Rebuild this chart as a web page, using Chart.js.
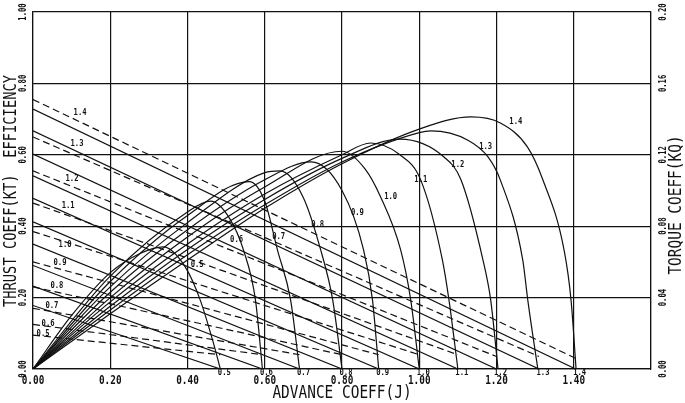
<!DOCTYPE html>
<html>
<head>
<meta charset="utf-8">
<script src="https://cdn.jsdelivr.net/npm/chart.js@4.4.0/dist/chart.umd.min.js"></script>
<style>
    html, body { margin: 0; padding: 0; background: #fff; }
</style>
</head>
<body>
<canvas id="chart" width="685" height="403"></canvas>
<script>
// pitch ratios P/D, one KT line, one KQ line and one efficiency curve each
const pitchRatios = ['0.5', '0.6', '0.7', '0.8', '0.9', '1.0', '1.1', '1.2', '1.3', '1.4'];

// advance coefficient where thrust is zero
const zeroThrustJ = [0.485, 0.594, 0.69, 0.80, 0.895, 1.00, 1.10, 1.20, 1.31, 1.405];

// KT at J = 0 (left axis)
const ktAtZero = [0.178, 0.232, 0.290, 0.350, 0.412, 0.478, 0.541, 0.602, 0.667, 0.728];

// KQ at J = 0 and at zero thrust (right axis)
const kqAtZero = [0.019, 0.025, 0.034, 0.046, 0.060, 0.077, 0.093, 0.111, 0.130, 0.151];
const kqAtZeroThrust = [0.008, 0.008, 0.008, 0.008, 0.008, 0.008, 0.008, 0.007, 0.007, 0.006];

// efficiency curves, [J, eta]
const etaCurves = [
    [[0, 0], [0.1, 0.15], [0.2, 0.27], [0.28, 0.325], [0.337, 0.342], [0.394, 0.286], [0.433, 0.193], [0.467, 0.073], [0.485, 0]],
    [[0, 0], [0.2, 0.26], [0.4, 0.44], [0.46, 0.47], [0.51, 0.42], [0.545, 0.333], [0.576, 0.193], [0.594, 0]],
    [[0, 0], [0.2, 0.245], [0.4, 0.43], [0.56, 0.525], [0.60, 0.47], [0.633, 0.333], [0.667, 0.193], [0.69, 0]],
    [[0, 0], [0.2, 0.23], [0.4, 0.41], [0.6, 0.55], [0.64, 0.555], [0.70, 0.48], [0.745, 0.333], [0.776, 0.193], [0.80, 0]],
    [[0, 0], [0.2, 0.215], [0.4, 0.39], [0.6, 0.53], [0.72, 0.58], [0.80, 0.50], [0.856, 0.333], [0.879, 0.193], [0.895, 0]],
    [[0, 0], [0.2, 0.20], [0.4, 0.37], [0.6, 0.51], [0.80, 0.61], [0.86, 0.56], [0.90, 0.482], [0.952, 0.333], [0.978, 0.193], [1.00, 0]],
    [[0, 0], [0.2, 0.188], [0.4, 0.35], [0.6, 0.49], [0.8, 0.60], [0.874, 0.633], [0.95, 0.60], [1.004, 0.529], [1.06, 0.305], [1.077, 0.193], [1.10, 0]],
    [[0, 0], [0.2, 0.176], [0.4, 0.335], [0.6, 0.475], [0.8, 0.59], [0.95, 0.644], [1.064, 0.594], [1.108, 0.53], [1.165, 0.305], [1.185, 0.193], [1.204, 0]],
    [[0, 0], [0.2, 0.165], [0.4, 0.32], [0.6, 0.46], [0.8, 0.58], [1.0, 0.662], [1.03, 0.667], [1.126, 0.641], [1.178, 0.594], [1.21, 0.529], [1.268, 0.305], [1.281, 0.193], [1.307, 0]],
    [[0, 0], [0.2, 0.155], [0.4, 0.305], [0.6, 0.45], [0.8, 0.575], [1.0, 0.672], [1.134, 0.706], [1.21, 0.689], [1.28, 0.622], [1.32, 0.53], [1.375, 0.333], [1.393, 0.193], [1.406, 0]]
];

// where the P/D numbers sit on the KQ lines and the efficiency curves, [J, value on left axis]
const kqLabelAt = [[0.026, 0.098], [0.039, 0.126], [0.049, 0.176], [0.062, 0.232], [0.070, 0.297], [0.083, 0.347], [0.091, 0.457], [0.101, 0.532], [0.114, 0.630], [0.122, 0.717]];
const etaLabelAt = [[0.425, 0.291], [0.527, 0.361], [0.636, 0.370], [0.737, 0.403], [0.840, 0.437], [0.926, 0.482], [1.004, 0.529], [1.100, 0.571], [1.172, 0.622], [1.250, 0.692]];

const jTicks = [0, 0.2, 0.4, 0.6, 0.8, 1.0, 1.2, 1.4];
const leftTicks = [0, 0.2, 0.4, 0.6, 0.8, 1.0];
const rightTicks = [0, 0.04, 0.08, 0.12, 0.16, 0.20];

const INK = '#111';
const MONO = '"DejaVu Sans Mono", "Liberation Mono", monospace';

const datasets = [];
pitchRatios.forEach((pd, i) => {
    datasets.push({
        label: 'KT ' + pd,
        data: [{x: 0, y: ktAtZero[i]}, {x: zeroThrustJ[i], y: 0}],
        yAxisID: 'y'
    });
    datasets.push({
        label: 'KQ ' + pd,
        data: [{x: 0, y: kqAtZero[i]}, {x: zeroThrustJ[i], y: kqAtZeroThrust[i]}],
        yAxisID: 'y2',
        borderDash: [7, 4]
    });
    datasets.push({
        label: 'ETA ' + pd,
        data: etaCurves[i].map(p => ({x: p[0], y: p[1]})),
        yAxisID: 'y',
        cubicInterpolationMode: 'monotone'
    });
});

function drawText(ctx, text, x, y, rot, font, sx) {
    ctx.save();
    ctx.translate(x, y);
    ctx.rotate(rot);
    ctx.scale(sx, 1);
    ctx.font = font;
    ctx.fillText(text, 0, 0);
    ctx.restore();
}

const textPlugin = {
    id: 'chartText',
    afterDraw(chart) {
        const {ctx, chartArea} = chart;
        const x = chart.scales.x, y = chart.scales.y, y2 = chart.scales.y2;
        ctx.save();
        ctx.fillStyle = INK;
        ctx.textAlign = 'center';
        ctx.textBaseline = 'middle';

        // tick labels
        jTicks.forEach(v => drawText(ctx, v.toFixed(2), x.getPixelForValue(v), chartArea.bottom + 12, 0, 'bold 12px ' + MONO, 0.78));
        leftTicks.forEach(v => drawText(ctx, v.toFixed(2), chartArea.left - 10, y.getPixelForValue(v), -Math.PI / 2, 'bold 10px ' + MONO, 0.72));
        rightTicks.forEach(v => drawText(ctx, v.toFixed(2), chartArea.right + 12, y2.getPixelForValue(v), -Math.PI / 2, 'bold 10px ' + MONO, 0.72));

        // axis titles
        drawText(ctx, 'ADVANCE COEFF(J)', 342, chartArea.bottom + 25, 0, '17px ' + MONO, 0.85);
        drawText(ctx, 'THRUST COEFF(KT)  EFFICIENCY', 12, 191, -Math.PI / 2, '17px ' + MONO, 0.81);
        drawText(ctx, 'TORQUE COEFF(KQ)', 677, 205, -Math.PI / 2, '17px ' + MONO, 0.85);

        // P/D numbers
        const small = 'bold 8px ' + MONO;
        pitchRatios.forEach((pd, i) => {
            drawText(ctx, pd, x.getPixelForValue(zeroThrustJ[i]) + 4, chartArea.bottom + 4, 0, small, 0.9);
            drawText(ctx, pd, x.getPixelForValue(kqLabelAt[i][0]), y.getPixelForValue(kqLabelAt[i][1]), 0, small, 0.9);
            drawText(ctx, pd, x.getPixelForValue(etaLabelAt[i][0]), y.getPixelForValue(etaLabelAt[i][1]), 0, small, 0.9);
        });
        ctx.restore();
    }
};

const gridOpts = {color: INK, lineWidth: 1.2, drawTicks: false};

new Chart(document.getElementById('chart'), {
    type: 'scatter',
    data: {datasets},
    options: {
        responsive: false,
        animation: false,
        showLine: true,
        layout: {padding: {left: 33, right: 34, top: 12, bottom: 34}},
        elements: {
            point: {radius: 0},
            line: {borderColor: INK, borderWidth: 1.2, fill: false}
        },
        plugins: {legend: {display: false}, tooltip: {enabled: false}},
        scales: {
            x: {
                type: 'linear', min: 0, max: 1.6,
                ticks: {display: false, stepSize: 0.2},
                grid: gridOpts,
                border: {color: INK, width: 1.2}
            },
            y: {
                min: 0, max: 1,
                ticks: {display: false, stepSize: 0.2},
                grid: gridOpts,
                border: {color: INK, width: 1.2}
            },
            y2: {
                position: 'right', min: 0, max: 0.2,
                ticks: {display: false, stepSize: 0.04},
                grid: {display: false, drawTicks: false},
                border: {color: INK, width: 1.2}
            }
        }
    },
    plugins: [textPlugin]
});
</script>
</body>
</html>
